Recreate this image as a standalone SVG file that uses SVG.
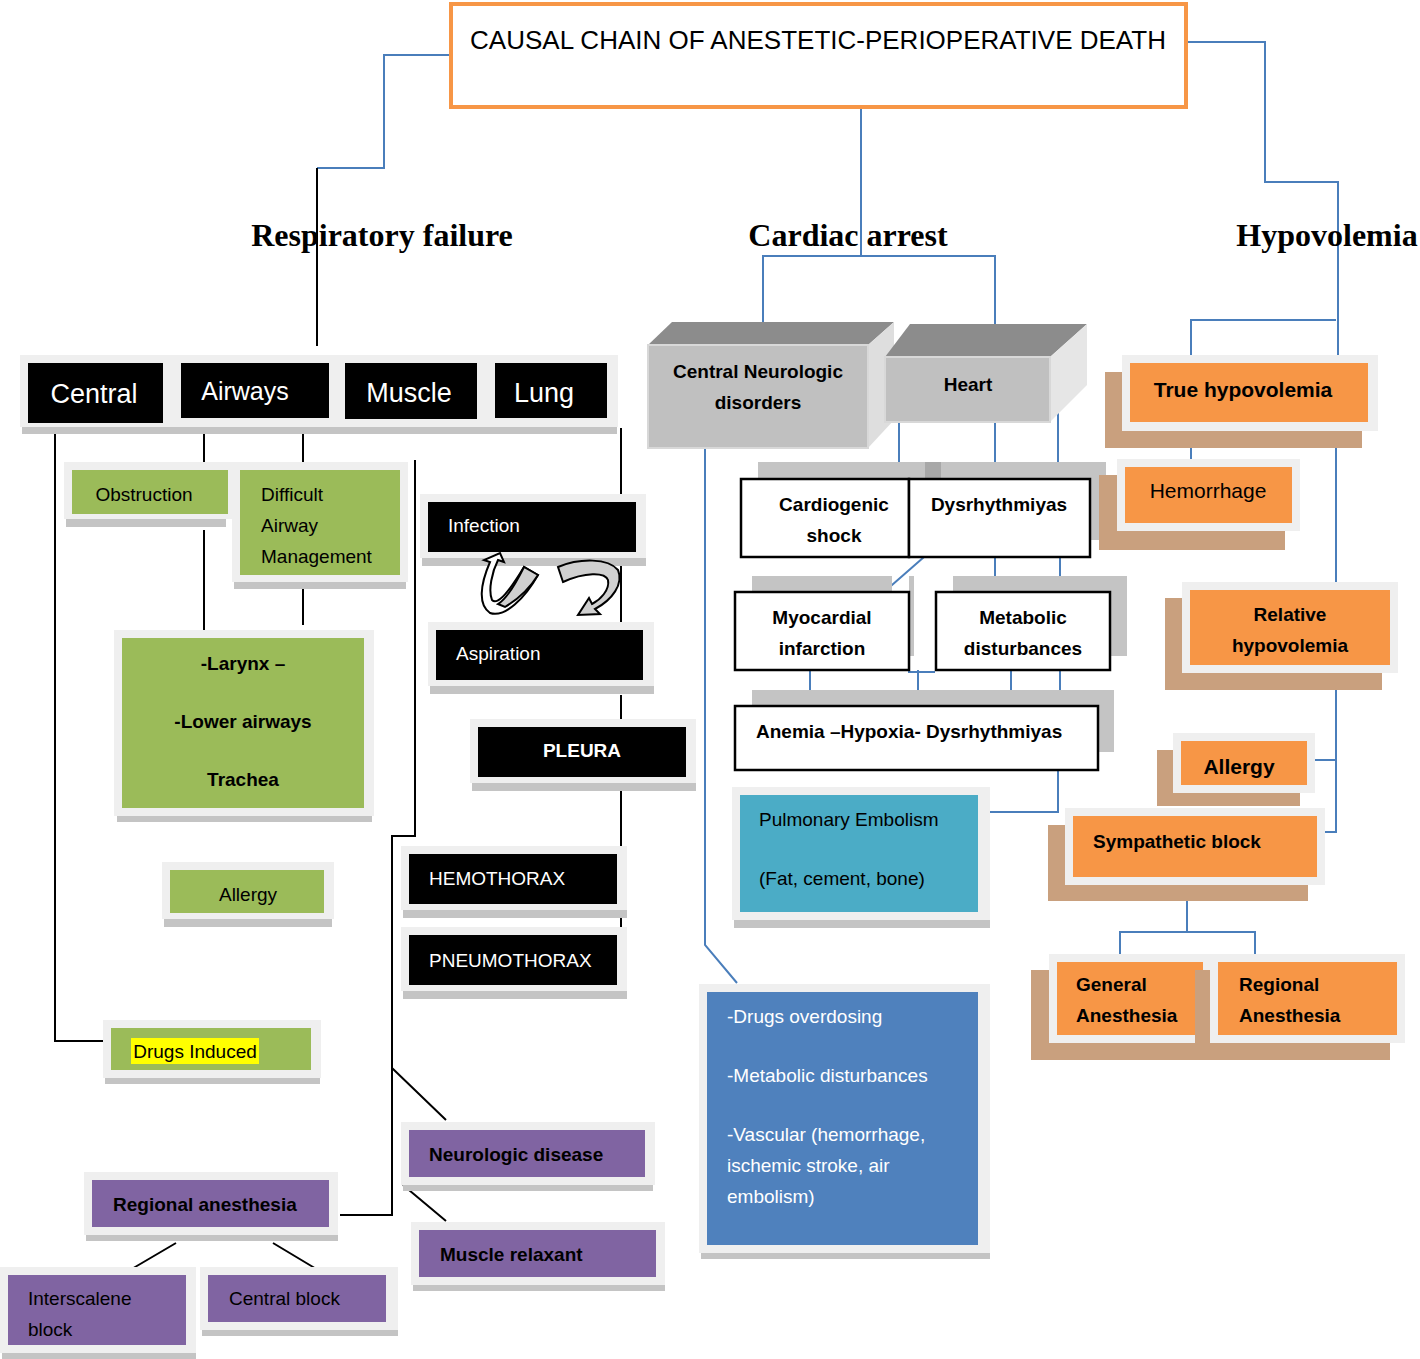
<svg xmlns="http://www.w3.org/2000/svg" width="1420" height="1359" viewBox="0 0 1420 1359">
<style>
text{font-family:"Liberation Sans",Arial,sans-serif;}
.t{font-size:19px;text-anchor:middle}
.b{font-weight:bold}
.w{fill:#fff}
.fr{fill:#efefef}
.sh{fill:#c4c4c4}
.blk{fill:#000}
.grn{fill:#9bbb59}
.pur{fill:#8064a2}
.org{fill:#f79646}
.tan{fill:#c9a07e}
.wb{fill:#fff;stroke:#000;stroke-width:2.5}
.h{font-family:"Liberation Serif",serif;font-weight:bold;font-size:32px;text-anchor:middle}
.bl{fill:none;stroke:#4a7ebb;stroke-width:2}
.k{fill:none;stroke:#000;stroke-width:2}
</style>
<rect width="1420" height="1359" fill="#fff"/>
<g id="connectors">
<path class="bl" d="M450,55H384V168H317M861,108V256M763,330V256H995V327M1187,42H1265V182H1338V360M1191,358V320H1336M1191,425V465M1336,448V832H1315M1336,760H1313M1187,893V932M1120,955V932H1255V955M899,420V480M995,420V480M1058,390V466M924,557L884,592M995,557V592M1060,557V592M810,670V706M918,670V706M908,672H935M1011,670V706M1060,670V706M1058,770V812H990M705,448V945L737,983"/>
<path class="k" d="M317,168V346M55,425V1041H104M204,428V467M204,530V635M303,428V465M303,588V625M415,460V836H392V1215H340M392,1068L446,1120M403,1185L446,1221M621,428V497M621,565V625M621,695V720M621,788V848M621,912V930M176,1243L130,1270M273,1243L318,1270"/>
</g>
<g id="title"><rect x="451" y="4" width="735" height="103" fill="#fff" stroke="#f79646" stroke-width="4"/><text x="818" y="49" style="font-size:26px;text-anchor:middle">CAUSAL CHAIN OF ANESTETIC-PERIOPERATIVE DEATH</text></g>
<text class="h" x="382" y="246">Respiratory failure</text>
<text class="h" x="848" y="246">Cardiac arrest</text>
<text class="h" x="1327" y="246">Hypovolemia</text>

<g id="top-row">
<rect class="sh" x="22" y="420" width="595" height="14"/>
<rect class="fr" x="20" y="355" width="598" height="72"/>
<g id="central"><rect class="blk" x="28" y="363" width="135" height="60"/><text class="t w" x="94" y="403" style="font-size:27px">Central</text></g>
<g id="airways"><rect class="blk" x="181" y="363" width="148" height="55"/><text class="t w" x="245" y="400" style="font-size:25px">Airways</text></g>
<g id="muscle"><rect class="blk" x="345" y="363" width="132" height="56"/><text class="t w" x="409" y="402" style="font-size:27px">Muscle</text></g>
<g id="lung"><rect class="blk" x="495" y="363" width="112" height="55"/><text class="t w" x="544" y="402" style="font-size:27px">Lung</text></g>
</g>

<g id="obstruction"><rect class="sh" x="66" y="513" width="160" height="14"/><rect class="fr" x="64" y="462" width="172" height="57"/><rect class="grn" x="72" y="470" width="156" height="44"/><text class="t" x="144" y="501">Obstruction</text></g>
<g id="difficult"><rect class="sh" x="234" y="575" width="172" height="14"/><rect class="fr" x="232" y="462" width="176" height="120"/><rect class="grn" x="240" y="470" width="160" height="105"/><text x="261" y="501" style="font-size:19px">Difficult</text><text x="261" y="532" style="font-size:19px">Airway</text><text x="261" y="563" style="font-size:19px">Management</text></g>
<g id="larynx"><rect class="sh" x="117" y="808" width="255" height="14"/><rect class="fr" x="114" y="630" width="260" height="186"/><rect class="grn" x="122" y="638" width="242" height="170"/><text class="t b" x="243" y="670">-Larynx –</text><text class="t b" x="243" y="728">-Lower airways</text><text class="t b" x="243" y="786">Trachea</text></g>
<g id="allergy-l"><rect class="sh" x="164" y="913" width="168" height="14"/><rect class="fr" x="162" y="862" width="172" height="57"/><rect class="grn" x="170" y="870" width="154" height="43"/><text class="t" x="248" y="901">Allergy</text></g>
<g id="drugs"><rect class="sh" x="105" y="1070" width="215" height="14"/><rect class="fr" x="103" y="1020" width="218" height="58"/><rect class="grn" x="111" y="1028" width="200" height="42"/><rect x="131" y="1038" width="128" height="26" fill="#ffff00"/><text class="t" x="195" y="1058">Drugs Induced</text></g>

<g id="infection"><rect class="sh" x="422" y="552" width="224" height="14"/><rect class="fr" x="420" y="494" width="226" height="64"/><rect class="blk" x="428" y="502" width="208" height="50"/><text class="w" x="448" y="532" style="font-size:19px">Infection</text></g>
<g id="aspiration"><rect class="sh" x="430" y="680" width="224" height="14"/><rect class="fr" x="428" y="622" width="226" height="64"/><rect class="blk" x="436" y="630" width="207" height="50"/><text class="w" x="456" y="660" style="font-size:19px">Aspiration</text></g>
<g id="pleura"><rect class="sh" x="472" y="777" width="224" height="14"/><rect class="fr" x="470" y="719" width="226" height="64"/><rect class="blk" x="478" y="727" width="208" height="50"/><text class="t w b" x="582" y="757">PLEURA</text></g>
<g id="hemothorax"><rect class="sh" x="403" y="904" width="224" height="14"/><rect class="fr" x="401" y="846" width="226" height="64"/><rect class="blk" x="409" y="854" width="208" height="50"/><text class="w" x="429" y="885" style="font-size:19px">HEMOTHORAX</text></g>
<g id="pneumothorax"><rect class="sh" x="403" y="985" width="224" height="14"/><rect class="fr" x="401" y="927" width="226" height="64"/><rect class="blk" x="409" y="935" width="208" height="50"/><text class="w" x="429" y="967" style="font-size:19px">PNEUMOTHORAX</text></g>

<g id="cycle-arrows" stroke="#000" stroke-width="2" fill="#d0d0d0">
<path d="M538,575 L524,567 C510,590 498,606 492,600 C488,590 492,572 498,560 L504,562 L500,553 L484,560 L490,562 C480,585 478,605 490,613 C505,618 525,598 538,575Z" fill="#fff"/>
<path d="M538,575 L524,567 C515,585 505,600 498,604 L505,607 C520,598 530,588 538,575Z"/>
<path d="M558,567 L563,582 C585,572 605,572 608,580 C610,590 600,600 592,604 L589,598 L578,615 L600,614 L595,609 C612,600 624,584 618,570 C608,558 580,558 558,567Z"/>
</g>

<g id="neurologic"><rect class="sh" x="403" y="1177" width="250" height="14"/><rect class="fr" x="401" y="1122" width="254" height="63"/><rect class="pur" x="409" y="1130" width="236" height="47"/><text class="b" x="429" y="1161" style="font-size:19px">Neurologic disease</text></g>
<g id="muscle-relax"><rect class="sh" x="413" y="1277" width="252" height="14"/><rect class="fr" x="411" y="1222" width="254" height="63"/><rect class="pur" x="419" y="1230" width="237" height="47"/><text class="b" x="440" y="1261" style="font-size:19px">Muscle relaxant</text></g>
<g id="regional-anesthesia"><rect class="sh" x="86" y="1227" width="252" height="14"/><rect class="fr" x="84" y="1172" width="254" height="63"/><rect class="pur" x="92" y="1180" width="237" height="47"/><text class="b" x="113" y="1211" style="font-size:19px">Regional anesthesia</text></g>
<g id="interscalene"><rect class="sh" x="2" y="1345" width="194" height="14"/><rect class="fr" x="0" y="1267" width="196" height="86"/><rect class="pur" x="8" y="1275" width="178" height="70"/><text x="28" y="1305" style="font-size:19px">Interscalene</text><text x="28" y="1336" style="font-size:19px">block</text></g>
<g id="central-block"><rect class="sh" x="202" y="1322" width="196" height="14"/><rect class="fr" x="200" y="1267" width="198" height="63"/><rect class="pur" x="208" y="1275" width="178" height="47"/><text x="229" y="1305" style="font-size:19px">Central block</text></g>

<g id="cnd"><polygon points="648,345 672,322 894,322 868,345" fill="#8c8c8c"/><polygon points="868,345 894,322 894,420 868,448" fill="#dedede"/><rect x="648" y="345" width="220" height="103" fill="#c0c0c0" stroke="#d8d8d8" stroke-width="2"/><text class="t b" x="758" y="378">Central Neurologic</text><text class="t b" x="758" y="409">disorders</text></g>
<g id="heart"><polygon points="885,357 910,324 1087,324 1050,357" fill="#8c8c8c"/><polygon points="1050,357 1087,324 1087,385 1050,422" fill="#e6e6e6"/><rect x="885" y="357" width="165" height="65" fill="#c0c0c0" stroke="#d8d8d8" stroke-width="2"/><text class="t b" x="968" y="391">Heart</text></g>

<rect class="sh" x="758" y="462" width="348" height="18"/><rect x="925" y="462" width="16" height="18" fill="#a8a8a8"/>
<rect class="sh" x="1090" y="462" width="16" height="78"/>
<g id="cardiogenic"><rect class="wb" x="741" y="479" width="168" height="78"/><text class="t b" x="834" y="511">Cardiogenic</text><text class="t b" x="834" y="542">shock</text></g>
<g id="dysrhythmiyas"><rect class="wb" x="909" y="479" width="181" height="78"/><text class="t b" x="999" y="511">Dysrhythmiyas</text></g>
<rect class="sh" x="752" y="576" width="140" height="18"/><rect class="sh" x="909" y="576" width="5" height="80"/>
<rect class="sh" x="953" y="576" width="174" height="18"/><rect class="sh" x="1110" y="576" width="17" height="80"/>
<g id="myocardial"><rect class="wb" x="735" y="592" width="174" height="78"/><text class="t b" x="822" y="624">Myocardial</text><text class="t b" x="822" y="655">infarction</text></g>
<g id="metabolic"><rect class="wb" x="936" y="592" width="174" height="78"/><text class="t b" x="1023" y="624">Metabolic</text><text class="t b" x="1023" y="655">disturbances</text></g>
<rect class="sh" x="752" y="690" width="362" height="18"/><rect class="sh" x="1098" y="690" width="16" height="62"/>
<g id="anemia"><rect class="wb" x="735" y="706" width="363" height="64"/><text class="b" x="756" y="738" style="font-size:19px">Anemia –Hypoxia- Dysrhythmiyas</text></g>

<g id="pulmonary"><rect class="sh" x="734" y="912" width="256" height="16"/><rect class="fr" x="732" y="787" width="258" height="133"/><rect x="740" y="795" width="238" height="117" fill="#4bacc6"/><text x="759" y="826" style="font-size:19px">Pulmonary Embolism</text><text x="759" y="885" style="font-size:19px">(Fat, cement, bone)</text></g>
<g id="drugs-overdosing"><rect class="sh" x="701" y="1245" width="289" height="14"/><rect class="fr" x="699" y="984" width="291" height="269"/><rect x="707" y="992" width="271" height="253" fill="#4f81bd"/><g class="w" style="font-size:19px"><text x="727" y="1023">-Drugs overdosing</text><text x="727" y="1082">-Metabolic disturbances</text><text x="727" y="1141">-Vascular (hemorrhage,</text><text x="727" y="1172">ischemic stroke, air</text><text x="727" y="1203">embolism)</text></g></g>

<g id="true-hypo"><rect class="tan" x="1105" y="372" width="257" height="76"/><rect class="fr" x="1122" y="355" width="256" height="76"/><rect class="org" x="1130" y="363" width="238" height="59"/><text class="t b" x="1243" y="397" style="font-size:21px">True hypovolemia</text></g>
<g id="hemorrhage"><rect class="tan" x="1099" y="475" width="186" height="75"/><rect class="fr" x="1117" y="459" width="183" height="72"/><rect class="org" x="1125" y="467" width="167" height="56"/><text class="t" x="1208" y="498" style="font-size:21px">Hemorrhage</text></g>
<g id="relative"><rect class="tan" x="1165" y="598" width="217" height="92"/><rect class="fr" x="1182" y="582" width="216" height="91"/><rect class="org" x="1190" y="590" width="200" height="75"/><text class="t b" x="1290" y="621">Relative</text><text class="t b" x="1290" y="652">hypovolemia</text></g>
<g id="allergy-r"><rect class="tan" x="1157" y="750" width="143" height="56"/><rect class="fr" x="1173" y="733" width="142" height="60"/><rect class="org" x="1181" y="741" width="126" height="44"/><text class="t b" x="1239" y="774" style="font-size:21px">Allergy</text></g>
<g id="sympathetic"><rect class="tan" x="1048" y="825" width="260" height="76"/><rect class="fr" x="1065" y="808" width="260" height="77"/><rect class="org" x="1073" y="816" width="244" height="61"/><text class="t b" x="1177" y="848">Sympathetic block</text></g>
<g id="general"><rect class="tan" x="1031" y="970" width="164" height="90"/><rect class="fr" x="1049" y="954" width="162" height="89"/><rect class="org" x="1057" y="962" width="146" height="73"/><text class="b" x="1076" y="991" style="font-size:19px">General</text><text class="b" x="1076" y="1022" style="font-size:19px">Anesthesia</text></g>
<g id="regional"><rect class="tan" x="1195" y="970" width="195" height="90"/><rect class="fr" x="1210" y="954" width="195" height="89"/><rect class="org" x="1218" y="962" width="179" height="73"/><text class="b" x="1239" y="991" style="font-size:19px">Regional</text><text class="b" x="1239" y="1022" style="font-size:19px">Anesthesia</text></g>
</svg>
